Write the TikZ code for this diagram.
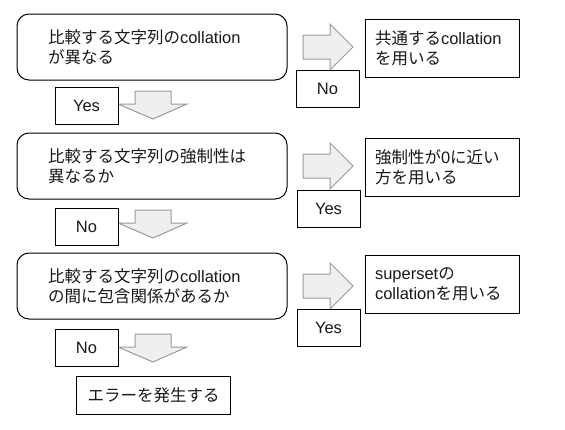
\documentclass[tikz,border=0pt]{standalone}
\usepackage{fontspec}
\setmainfont{Liberation Sans}
\newfontfamily\jp{Noto Sans CJK JP}
\definecolor{arrowline}{HTML}{9A9A9A}
\definecolor{arrowfill}{HTML}{EFEFEF}
\tikzset{
  txt/.style={font=\fontsize{16.5}{20}\selectfont, text=black!90},
  cond/.style={txt, draw, fill=white, line width=1pt, rounded corners=12pt,
    text width=208pt, inner xsep=31pt, minimum height=66pt, align=left},
  result/.style={txt, draw, fill=white, line width=1pt,
    text width=134pt, inner xsep=10pt, minimum height=58pt, align=left},
  answer/.style={txt, draw, fill=white, line width=1pt,
    minimum width=63pt, minimum height=37pt, inner sep=0pt},
  blockarrow/.style={draw=arrowline, fill=arrowfill, line width=1pt, line join=miter}
}
\begin{document}
\begin{tikzpicture}[x=1pt,y=-1pt]
  \useasboundingbox (0,0) rectangle (565,429);
  % arrows to the right
  \foreach \y in {47,166,286}
  \draw[blockarrow] (303,\y-12) -- (330,\y-12) -- (330,\y-23) -- (353,\y)
    -- (330,\y+23) -- (330,\y+12) -- (303,\y+12) -- cycle;
  % arrows down
  \foreach \y in {91,210,334}
  \draw[blockarrow] (135,\y) -- (171,\y) -- (171,\y+13) -- (187,\y+13)
    -- (153,\y+28) -- (118,\y+13) -- (135,\y+13) -- cycle;
  % questions
  \node[cond] (q1) at (152,47) {{\jp 比較する文字列の}collation\\{\jp が異なる}};
  \node[cond] (q2) at (152,166) {{\jp 比較する文字列の強制性は}\\{\jp 異なるか}};
  \node[cond] (q3) at (152,286) {{\jp 比較する文字列の}collation\\{\jp の間に包含関係があるか}};
  % results
  \node[result] (r1) at (442,48) {{\jp 共通する}collation\\{\jp を用いる}};
  \node[result] (r2) at (442,167) {{\jp 強制性が}0{\jp に近い}\\{\jp 方を用いる}};
  \node[result] (r3) at (442,284.5) {superset{\jp の}\\collation{\jp を用いる}};
  \node[answer, minimum width=154pt, minimum height=38pt] (err) at (153.5,395) {\jp エラーを発生する};
  % answers
  \node[answer] (a1) at (327.5,89) {No};
  \node[answer] (a2) at (328.5,208.5) {Yes};
  \node[answer] (a3) at (328.5,328) {Yes};
  \node[answer] (b1) at (86.5,106) {Yes};
  \node[answer] (b2) at (86.5,226.5) {No};
  \node[answer] (b3) at (86.5,347.5) {No};
\end{tikzpicture}
\end{document}
